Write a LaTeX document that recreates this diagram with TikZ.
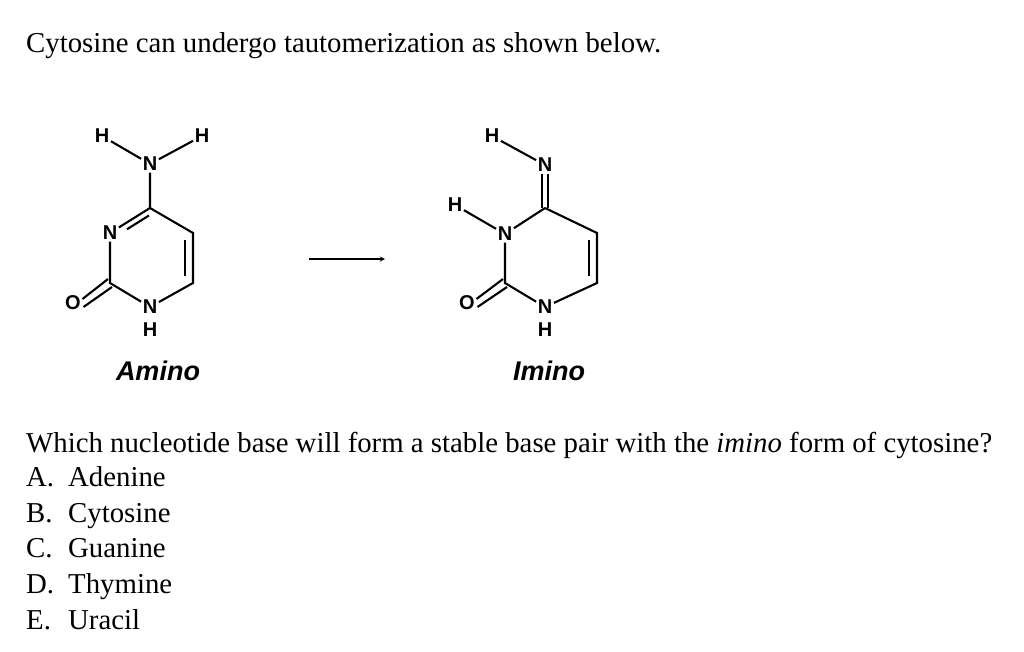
\documentclass[tikz,border=0pt]{standalone}
\usepackage{fontspec}
\setmainfont{Liberation Serif}
\newfontfamily\atomfont{Liberation Sans}
\usetikzlibrary{calc}
\begin{document}
\begin{tikzpicture}[x=1pt,y=-1pt,
  atom/.style={font=\atomfont\bfseries\fontsize{20}{20}\selectfont,inner sep=1.5pt},
  bond/.style={line width=2.1pt},
  txt/.style={font=\fontsize{28.8}{28.8}\selectfont,anchor=base west,inner sep=0pt},
  lab/.style={font=\atomfont\bfseries\itshape\fontsize{27}{27}\selectfont}]
\useasboundingbox (0,0) rectangle (1024,651);
\node[txt] (title) at (26,52) {Cytosine can undergo tautomerization as shown below.};
% Amino
\node[atom] (aH1) at (102,136) {H};
\node[atom] (aH2) at (202,136) {H};
\node[atom] (aN4) at (150,164) {N};
\coordinate (aC4) at (150,208);
\node[atom] (aN3) at (110,233) {N};
\coordinate (aC5) at (193,233);
\coordinate (aC2) at (110,283);
\coordinate (aC6) at (193,283);
\node[atom] (aN1) at (150,307) {N};
\node[atom] (aH) at (150,330) {H};
\node[atom] (aO) at (73,303) {O};
\draw[bond] (aH1) -- (aN4) -- (aH2);
\draw[bond] (aN4) -- (aC4) -- (aC5) -- (aC6) -- (aN1) -- (aC2) -- (aN3) -- (aC4);
\draw[bond] ($(aN3)!0.35!(aC4)+(3,5)$) -- ($(aN3)!0.9!(aC4)+(3,5)$);
\draw[bond] ($(aC5)+(-8,7)$) -- ($(aC6)+(-8,-7)$);
\draw[bond] ($(aC2)+(-2,-4)$) -- ($(aO.east)+(0,-4)$);
\draw[bond] ($(aC2)+(2,4)$) -- ($(aO.east)+(1,4)$);
\node[lab] (amino) at (158,371) {Amino};
% Arrow
\coordinate (ar1) at (309,259);
\coordinate (ar2) at (385,259);
\draw[line width=1.3pt,-stealth] (ar1) -- (ar2);
% Imino
\node[atom] (iH1) at (492,136) {H};
\node[atom] (iN4) at (545,165) {N};
\coordinate (iC4) at (545,208);
\node[atom] (iN3) at (505,234) {N};
\node[atom] (iH3) at (455,205) {H};
\coordinate (iC5) at (597,233);
\coordinate (iC2) at (505,283);
\coordinate (iC6) at (597,283);
\node[atom] (iN1) at (545,307) {N};
\node[atom] (iH) at (545,330) {H};
\node[atom] (iO) at (467,303) {O};
\draw[bond] (iH1) -- (iN4);
\draw[bond] (iH3) -- (iN3);
\draw[bond] ($(iN4.south)+(-3,0)$) -- ($(iC4)+(-3,0)$);
\draw[bond] ($(iN4.south)+(3,0)$) -- ($(iC4)+(3,0)$);
\draw[bond] (iC4) -- (iC5) -- (iC6) -- (iN1) -- (iC2) -- (iN3) -- (iC4);
\draw[bond] ($(iC5)+(-8,7)$) -- ($(iC6)+(-8,-7)$);
\draw[bond] ($(iC2)+(-2,-4)$) -- ($(iO.east)+(0,-4)$);
\draw[bond] ($(iC2)+(2,4)$) -- ($(iO.east)+(1,4)$);
\node[lab] (imino) at (549,371) {Imino};
% Question
\node[txt] (q) at (26,452) {Which nucleotide base will form a stable base pair with the \textit{imino} form of cytosine?};
\node[txt] (oA) at (26,486) {A.};\node[txt] (tA) at (68,486) {Adenine};
\node[txt] (oB) at (26,522) {B.};\node[txt] (tB) at (68,522) {Cytosine};
\node[txt] (oC) at (26,557) {C.};\node[txt] (tC) at (68,557) {Guanine};
\node[txt] (oD) at (26,593) {D.};\node[txt] (tD) at (68,593) {Thymine};
\node[txt] (oE) at (26,629) {E.};\node[txt] (tE) at (68,629) {Uracil};
\end{tikzpicture}
\end{document}
